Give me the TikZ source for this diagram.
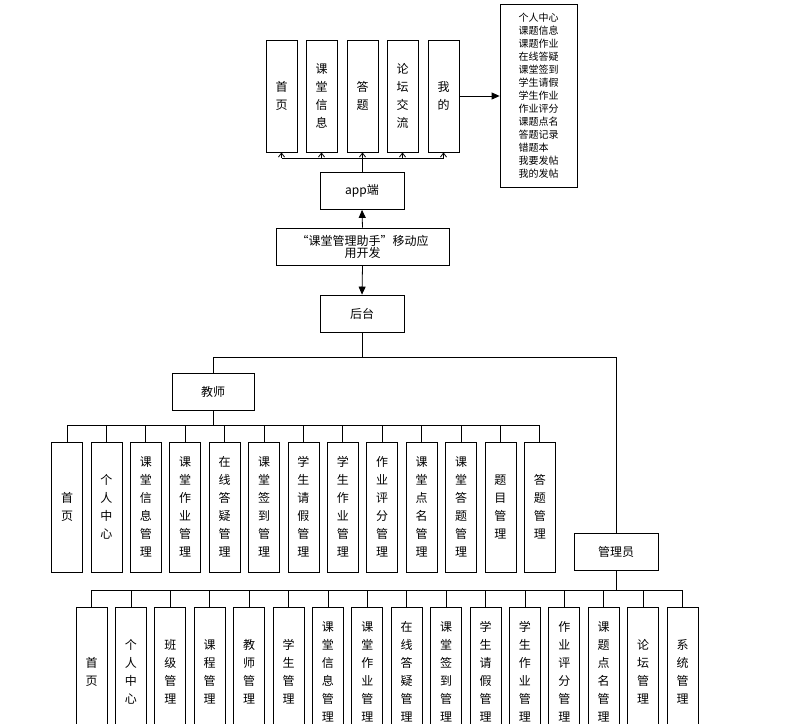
\documentclass[tikz,border=0pt]{standalone}
\usepackage{fontspec}
\setmainfont{Noto Sans CJK SC}
\usetikzlibrary{arrows.meta}
\begin{document}
\begin{tikzpicture}[x=1pt,y=-1pt,
  box/.style={draw,thick,fill=white,inner sep=0pt,font=\fontsize{12}{18}\selectfont,align=center},
  vbox/.style={box,minimum width=31pt,minimum height=130pt},
  hbox/.style={box,minimum width=84pt,minimum height=37pt},
  ln/.style={draw,line width=0.8pt},
  oarr/.style={ln,-{Straight Barb[length=4pt,width=6pt]}},
  farr/.style={ln,-{Triangle[length=8pt,width=7pt]}}]
\useasboundingbox (0,0) rectangle (803,723);
% top
\node[vbox,minimum height=112pt] (t1) at (281.5,96) {首\\页};
\node[vbox,minimum height=112pt] (t2) at (321.5,96) {课\\堂\\信\\息};
\node[vbox,minimum height=112pt] (t3) at (362.5,96) {答\\题};
\node[vbox,minimum height=112pt] (t4) at (402.5,96) {论\\坛\\交\\流};
\node[vbox,minimum height=112pt] (t5) at (443.5,96) {我\\的};
\node[box,minimum width=77pt,minimum height=183pt,align=left,font=\fontsize{10}{13}\selectfont] (lst) at (538.5,95.5)
 {个人中心\\课题信息\\课题作业\\在线答疑\\课堂签到\\学生请假\\学生作业\\作业评分\\课题点名\\答题记录\\错题本\\我要发帖\\我的发帖};
\draw[farr] (t5.east) -- (lst.west|-t5.east);
\node[hbox] (app) at (362,191) {app端};
\coordinate (tb) at (362,158);
\draw[ln] (app.north) -- (tb);
\draw[ln] (281.5,158) -- (443.5,158);
\foreach \n in {t1,t2,t3,t4,t5}{\draw[oarr] (\n.south|-tb) -- (\n.south);}
\node[box,minimum width=173pt,minimum height=37pt] (dev) at (362.5,246.5) {“课堂管理助手”移动应\\[-6pt]用开发};
\draw[farr] (dev.north) -- (app.south);
\node[hbox] (ht) at (362,313.5) {后台};
\draw[farr] (dev.south) -- (ht.north);
% teacher/admin
\node[hbox,minimum width=82pt] (js) at (213,391.5) {教师};
\node[hbox] (gly) at (616,552) {管理员};
\coordinate (hb) at (362,357);
\draw[ln] (ht.south) -- (hb);
\draw[ln] (213,357) -- (616,357);
\draw[ln] (js.north|-hb) -- (js.north);
\draw[ln] (gly.north|-hb) -- (gly.north);
% teacher children
\coordinate (jb) at (213,425);
\draw[ln] (js.south) -- (jb);
\draw[ln] (67,425) -- (539.8,425);
\foreach \t [count=\i from 0] in {首\\页,个\\人\\中\\心,课\\堂\\信\\息\\管\\理,课\\堂\\作\\业\\管\\理,在\\线\\答\\疑\\管\\理,课\\堂\\签\\到\\管\\理,学\\生\\请\\假\\管\\理,学\\生\\作\\业\\管\\理,作\\业\\评\\分\\管\\理,课\\堂\\点\\名\\管\\理,课\\堂\\答\\题\\管\\理,题\\目\\管\\理,答\\题\\管\\理}{
  \node[vbox] (j\i) at ({67+39.4*\i},507) {\t};
  \draw[ln] (j\i.north|-jb) -- (j\i.north);
}
% admin children
\coordinate (gb) at (616,590);
\draw[ln] (gly.south) -- (gb);
\draw[ln] (91.5,590) -- (682.5,590);
\foreach \t [count=\i from 0] in {首\\页,个\\人\\中\\心,班\\级\\管\\理,课\\程\\管\\理,教\\师\\管\\理,学\\生\\管\\理,课\\堂\\信\\息\\管\\理,课\\堂\\作\\业\\管\\理,在\\线\\答\\疑\\管\\理,课\\堂\\签\\到\\管\\理,学\\生\\请\\假\\管\\理,学\\生\\作\\业\\管\\理,作\\业\\评\\分\\管\\理,课\\题\\点\\名\\管\\理,论\\坛\\管\\理,系\\统\\管\\理}{
  \node[vbox] (g\i) at ({91.5+39.4*\i},672) {\t};
  \draw[ln] (g\i.north|-gb) -- (g\i.north);
}
\end{tikzpicture}
\end{document}
